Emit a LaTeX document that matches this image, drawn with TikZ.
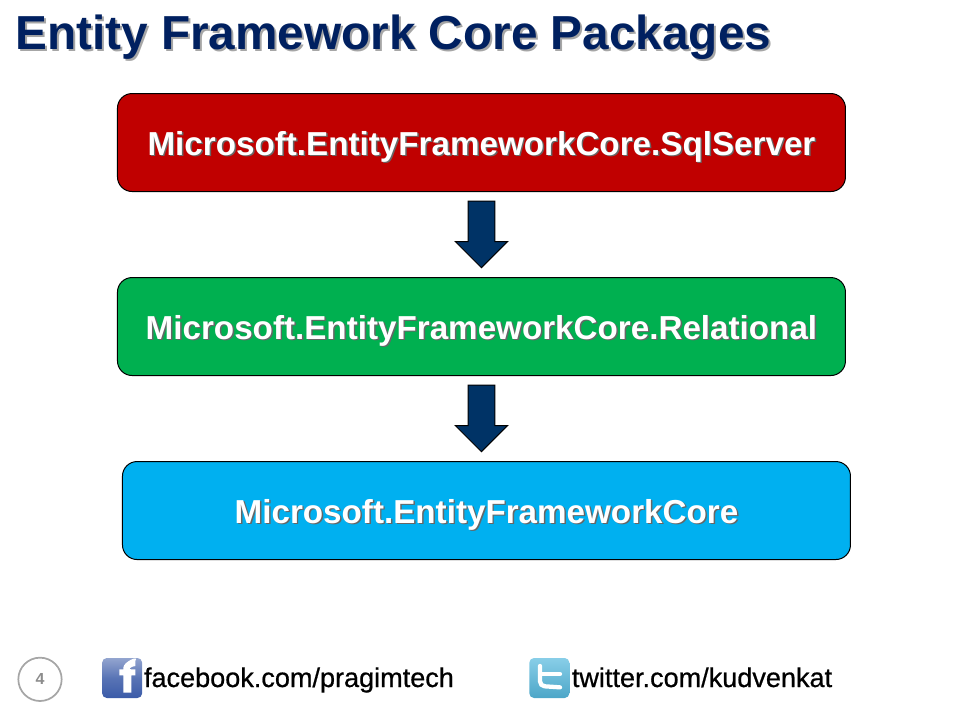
\documentclass[tikz,border=0pt]{standalone}
\usepackage{fontspec}
\setmainfont{Liberation Sans}
\newfontfamily\footfont[FakeBold=0.7]{Liberation Sans}
\usepackage{tikz}
\usetikzlibrary{shapes.arrows,positioning}

\definecolor{titleblue}{HTML}{002060}
\definecolor{sqlred}{HTML}{C00000}
\definecolor{relgreen}{HTML}{00B050}
\definecolor{coreblue}{HTML}{00B0F0}
\definecolor{arrowblue}{HTML}{003366}
\definecolor{fbblue}{HTML}{3B5BA8}
\definecolor{twblue}{HTML}{55B9DE}

% text with a soft offset shadow behind it
\newcommand{\shadowed}[3]{\leavevmode\rlap{\kern#2\raisebox{-#2}{\textcolor{#3}{#1}}}#1}

\begin{document}
\begin{tikzpicture}[
pkgbox/.style={draw=black,line width=0.75pt,rounded corners=11pt,minimum width=546pt,
  minimum height=73.5pt,inner sep=0pt,text height=18.8pt,text depth=0pt,text=white,
  font=\bfseries\fontsize{24.9pt}{30pt}\selectfont},
blockarrow/.style={draw=black,line width=0.75pt,fill=arrowblue,single arrow,single arrow head extend=9.6pt,
  single arrow tip angle=90,rotate=270,minimum width=38.4pt,minimum height=50pt,inner xsep=0pt,inner ysep=9.6pt,anchor=tail},
icon/.style={rounded corners=3.5pt,minimum size=30pt,inner sep=0pt},
foot/.style={font=\footfont\fontsize{20.3pt}{24pt}\selectfont,text=black,inner sep=0pt,text height=15pt,text depth=1.5pt},
node distance = 138pt]
\useasboundingbox (0,0) rectangle (720pt,-540pt);

\node[anchor=base west,inner sep=0pt,text=titleblue,font=\bfseries\fontsize{35.8pt}{40pt}\selectfont]
  (title) at (11.2pt,-37pt) {\shadowed{Entity Framework Core Packages}{1.5pt}{black!35}};

\node[pkgbox,fill=sqlred] (sql) at (361.1pt,-106.9pt) {\shadowed{Microsoft.EntityFrameworkCore.SqlServer}{1.1pt}{black!60}};
\node[pkgbox,fill=relgreen,below of=sql] (rel) {\shadowed{Microsoft.EntityFrameworkCore.Relational}{1.1pt}{black!60}};
\node[pkgbox,fill=coreblue,below of=rel,xshift=3.75pt] (core) {\shadowed{Microsoft.EntityFrameworkCore}{1.1pt}{black!60}};

\foreach \a/\b in {sql/rel,rel/core}{
\path (\a.south) -- node[blockarrow,pos=0.1] (\a-\b) {} (\a.south |- \b.north);
}

% footer
\node[circle,draw=black!35,line width=1.3pt,minimum size=32.5pt,inner sep=0pt,text=black!45,
  font=\bfseries\fontsize{12pt}{14pt}\selectfont] (page) at (30pt,-509.5pt) {4};

\node[icon,top color=fbblue!55!white,bottom color=fbblue,middle color=fbblue!85!white] (fb) at (91.6pt,-508.5pt) {};
\fill[white] ([xshift=1pt,yshift=-11pt]fb.center) -- ++(0,13pt) -- ++(-3pt,0) -- ++(0,4.5pt) -- ++(3pt,0)
  -- ++(0,1.5pt) .. controls +(0,4pt) and +(3pt,4.5pt) .. ++(9pt,5pt) -- ++(0,-4pt)
  .. controls +(-3pt,0) and +(-3.5pt,-.5pt) .. ++(-3pt,-2.5pt) -- ++(3pt,0) -- ++(0,-4.5pt) -- ++(-3pt,0) -- ++(0,-13pt) -- cycle;
\node[foot,right=1pt of fb.east,anchor=west] (fbtext) {facebook.com/pragimtech};

\node[icon,top color=twblue!70!white,bottom color=twblue!90!black] (tw) at (412pt,-508.5pt) {};
\draw[white,line width=3.2pt,line cap=round,rounded corners=3.5pt]
  ([xshift=-7pt,yshift=9pt]tw.center) -- ([xshift=-7pt,yshift=-6pt]tw.center) -- ([xshift=8pt,yshift=-7pt]tw.center);
\draw[white,line width=3.2pt,line cap=round] ([xshift=-6pt,yshift=3pt]tw.center) -- ([xshift=8pt,yshift=3pt]tw.center);
\node[foot,right=1.5pt of tw.east,anchor=west] (twtext) {twitter.com/kudvenkat};

\end{tikzpicture}
\end{document}
